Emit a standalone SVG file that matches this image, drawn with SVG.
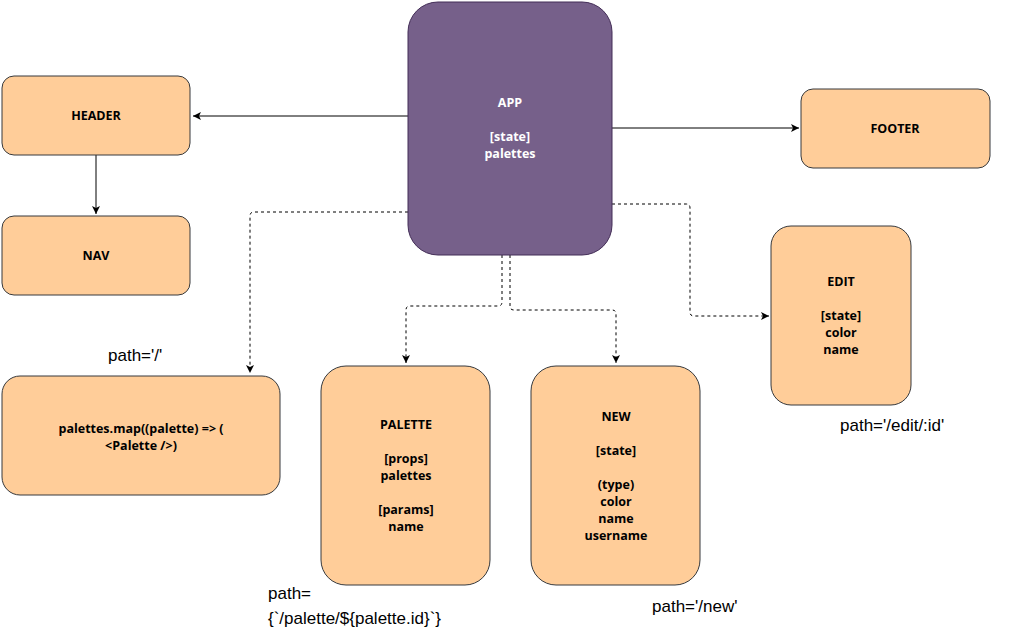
<svg xmlns="http://www.w3.org/2000/svg" width="1028" height="630" viewBox="0 0 1028 630">
<style>
.n{fill:#ffcd99;stroke:#36393d;stroke-width:1}
.t{font-family:"Open Sans",sans-serif;font-weight:bold;font-size:12.5px;text-anchor:middle;fill:#000}
.p{font-family:"Liberation Sans",Arial,sans-serif;font-size:17px;fill:#000}
.c{fill:none;stroke:#000;stroke-width:1}
.d{fill:none;stroke:#000;stroke-width:1;stroke-dasharray:3 3}
</style>
<defs><marker id="a" markerWidth="10" markerHeight="10" refX="8" refY="5" orient="auto" markerUnits="userSpaceOnUse"><path d="M0,1 L8,5 L0,9 L2,5 Z" fill="#000"/></marker></defs>
<rect width="1028" height="630" fill="#fff"/>
<g id="connectors">
<path class="c" d="M408,116 H193" stroke-width="2" marker-end="url(#a)"/>
<path class="c" d="M612,128 H799" marker-end="url(#a)"/>
<path class="c" d="M96,155 V214" marker-end="url(#a)"/>
<path class="d" d="M408,212 H254 Q250,212 250,216 V373" marker-end="url(#a)"/>
<path class="d" d="M502,255 V302 Q502,306 498,306 H410 Q406,306 406,310 V363" marker-end="url(#a)"/>
<path class="d" d="M510,255 V306 Q510,310 514,310 H612 Q616,310 616,314 V363" marker-end="url(#a)"/>
<path class="d" d="M612,204 H686 Q690,204 690,208 V312 Q690,316 694,316 H769" marker-end="url(#a)"/>
</g>
<g id="app"><rect x="408" y="2" width="204" height="253" rx="30" fill="#76608a" stroke="#432d57"/>
<text class="t" fill="#fff" style="fill:#fff"><tspan x="510" y="107">APP</tspan><tspan x="510" y="141">[state]</tspan><tspan x="510" y="158">palettes</tspan></text></g>
<g id="header"><rect class="n" x="2" y="76" width="188" height="79" rx="12"/><text class="t" x="96" y="120">HEADER</text></g>
<g id="nav"><rect class="n" x="2" y="216" width="188" height="79" rx="12"/><text class="t" x="96" y="260">NAV</text></g>
<g id="footer"><rect class="n" x="801" y="89" width="189" height="79" rx="12"/><text class="t" x="895" y="133">FOOTER</text></g>
<g id="edit"><rect class="n" x="771" y="226" width="140" height="179" rx="20"/>
<text class="t"><tspan x="841" y="286">EDIT</tspan><tspan x="841" y="320">[state]</tspan><tspan x="841" y="337">color</tspan><tspan x="841" y="354">name</tspan></text></g>
<g id="home"><rect class="n" x="2" y="376" width="278" height="119" rx="18"/>
<text class="t"><tspan x="141" y="433">palettes.map((palette) =&gt; (</tspan><tspan x="141" y="450">&lt;Palette /&gt;)</tspan></text></g>
<g id="palette"><rect class="n" x="321" y="366" width="169" height="219" rx="25"/>
<text class="t"><tspan x="406" y="429">PALETTE</tspan><tspan x="406" y="463">[props]</tspan><tspan x="406" y="480">palettes</tspan><tspan x="406" y="514">[params]</tspan><tspan x="406" y="531">name</tspan></text></g>
<g id="new"><rect class="n" x="531" y="366" width="169" height="219" rx="25"/>
<text class="t"><tspan x="616" y="421">NEW</tspan><tspan x="616" y="455">[state]</tspan><tspan x="616" y="489">(type)</tspan><tspan x="616" y="506">color</tspan><tspan x="616" y="523">name</tspan><tspan x="616" y="540">username</tspan></text></g>
<text class="p" x="108" y="361">path='/'</text>
<text class="p" x="840" y="431">path='/edit/:id'</text>
<text class="p" x="268" y="599">path=</text>
<text class="p" x="268" y="624">{`/palette/${palette.id}`}</text>
<text class="p" x="652" y="612">path='/new'</text>
</svg>
